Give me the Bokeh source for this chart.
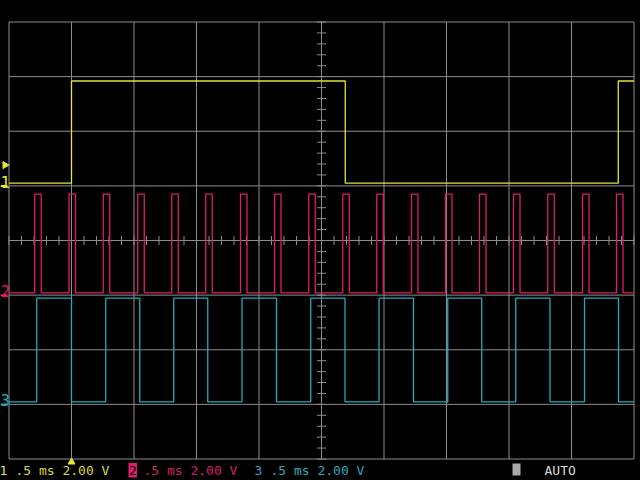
import numpy as np
from bokeh.plotting import figure
from bokeh.models import Range1d
from bokeh.core.properties import value
from bokeh.embed import file_html
from bokeh.resources import INLINE

# ---------------- acquisition settings ----------------
ms_per_div = 0.5
volts_per_div = 2.0
n_xdiv = 10
n_ydiv = 8
t_start, t_end = 0.0, 5.0           # ms across the screen

# ---------------- channel data ----------------
# Channel 1 (yellow): toggle times in ms, starts low
ch1_edges = [0.500, 2.690, 4.874]
ch1_levels = [0.10, 3.84]           # low / high volts
ch1_offset = 1.0                    # ground marker position (div)

# Channel 2 (magenta): narrow pulses, rising and falling edges in ms
ch2_rise = [0.206, 0.480, 0.754, 1.030, 1.302, 1.574, 1.852, 2.124, 2.398,
            2.670, 2.942, 3.220, 3.492, 3.764, 4.036, 4.310, 4.588, 4.860]
ch2_fall = [0.258, 0.532, 0.806, 1.082, 1.354, 1.626, 1.904, 2.176, 2.450,
            2.722, 2.994, 3.272, 3.544, 3.816, 4.088, 4.362, 4.640, 4.912]
ch2_levels = [0.08, 3.70]
ch2_offset = -1.0

# Channel 3 (cyan): toggle times in ms, starts low
ch3_edges = [0.222, 0.500, 0.774, 1.046, 1.318, 1.590, 1.864, 2.140, 2.414,
             2.688, 2.960, 3.236, 3.510, 3.782, 4.054, 4.328, 4.604, 4.876]
ch3_levels = [0.09, 3.89]
ch3_offset = -3.0

trig_time = 0.500     # ms
trig_level = 0.76     # volts on channel 1

status_labels = ["1", ".5 ms 2.00 V", "2", ".5 ms 2.00 V", "3", ".5 ms 2.00 V", "AUTO"]

YEL = "#e4e43a"
MAG = "#e01c6c"
CYA = "#26a8bc"
GRID = "#8c8c8c"

# ---------------- screen mapping (page pixels <-> ms/div) ----------------
PX_PER_MS = 62.5 / ms_per_div
PX_PER_DIV = 54.625
X0_PX = 8.5
Y0_PX = 240.0

def dx(px):
    return (px - X0_PX) / PX_PER_MS

def dy(py):
    return (Y0_PX - py) / PX_PER_DIV

W, H = 640, 480
p = figure(width=W, height=H, output_backend="svg", toolbar_location=None,
           x_range=Range1d(dx(0), dx(W)), y_range=Range1d(dy(H), dy(0)),
           x_axis_type=None, y_axis_type=None, min_border=0,
           background_fill_color="black", border_fill_color="black",
           outline_line_color=None)

# ---------------- graticule ----------------
xg = np.linspace(t_start, t_end, n_xdiv + 1)
yg = np.linspace(-n_ydiv / 2, n_ydiv / 2, n_ydiv + 1)
p.segment(x0=xg, x1=xg, y0=-n_ydiv / 2, y1=n_ydiv / 2, line_color=GRID, line_width=1)
p.segment(x0=t_start, x1=t_end, y0=yg, y1=yg, line_color=GRID, line_width=1)

xc = (t_start + t_end) / 2
minor_y = np.arange(-n_ydiv / 2, n_ydiv / 2 + 1e-9, 0.2)
minor_x = np.arange(t_start, t_end + 1e-9, ms_per_div / 5)
hx = 4.5 / PX_PER_MS
hy = 4.5 / PX_PER_DIV
p.segment(x0=xc - hx, x1=xc + hx, y0=minor_y, y1=minor_y, line_color=GRID, line_width=1)
p.segment(x0=minor_x, x1=minor_x, y0=-hy, y1=hy, line_color=GRID, line_width=1)

# ---------------- traces ----------------
def square(edges, levels, offset):
    state = 0
    xs = [t_start]
    ys = [levels[0]]
    for t in edges:
        xs += [t, t]
        ys += [levels[state], levels[1 - state]]
        state = 1 - state
    xs.append(t_end)
    ys.append(levels[state])
    return xs, list(offset + np.array(ys) / volts_per_div)

x3, y3 = square(ch3_edges, ch3_levels, ch3_offset)
x2, y2 = square(sorted(ch2_rise + ch2_fall), ch2_levels, ch2_offset)
x1, y1 = square(ch1_edges, ch1_levels, ch1_offset)
p.line(x3, y3, line_color=CYA, line_width=1.3)
p.line(x2, y2, line_color=MAG, line_width=1.3)
p.line(x1, y1, line_color=YEL, line_width=1.3)

# ---------------- channel ground markers ----------------
mono = value("DejaVu Sans Mono")
offs = [ch1_offset, ch2_offset, ch3_offset]
cols = [YEL, MAG, CYA]
p.text(x=[dx(0)] * 3, y=[o + 4 / PX_PER_DIV for o in offs], text=["1", "2", "3"],
       text_color=cols, text_font=mono, text_font_size="16px",
       text_baseline="alphabetic", text_align="left")
p.segment(x0=dx(0), x1=dx(7), y0=offs, y1=offs, line_color=cols, line_width=2)

# trigger level arrow (channel 1) and trigger position marker
p.scatter(x=[dx(4.5)], y=[ch1_offset + trig_level / volts_per_div], marker="triangle",
          angle=-np.pi / 2, size=7, fill_color=YEL, line_color=YEL)
p.scatter(x=[trig_time], y=[dy(461.5)], marker="triangle", size=7,
          fill_color=YEL, line_color=YEL)

# ---------------- status line ----------------
ty = dy(470)
p.quad(left=dx(128), right=dx(136.5), top=dy(462.5), bottom=dy(477),
       fill_color=MAG, line_color=None)
p.quad(left=dx(512), right=dx(520), top=dy(463), bottom=dy(475),
       fill_color="#a8a8a8", line_color=None)
p.text(x=[dx(-1), dx(15), dx(128.5), dx(143), dx(254), dx(270), dx(544)],
       y=[ty] * 7, text=status_labels,
       text_color=["#e0e040", "#d8d840", "black", "#d0206a", "#30a8bc", "#30a8bc", "#d8d8d8"],
       text_font=mono, text_font_size="13px", text_baseline="middle", text_align="left")

html = file_html(p, INLINE)
html = html.replace("<head>", "<head><style>html,body{margin:0;padding:0;background:#000;overflow:hidden;}</style>", 1)
open("out.html", "w").write(html)
